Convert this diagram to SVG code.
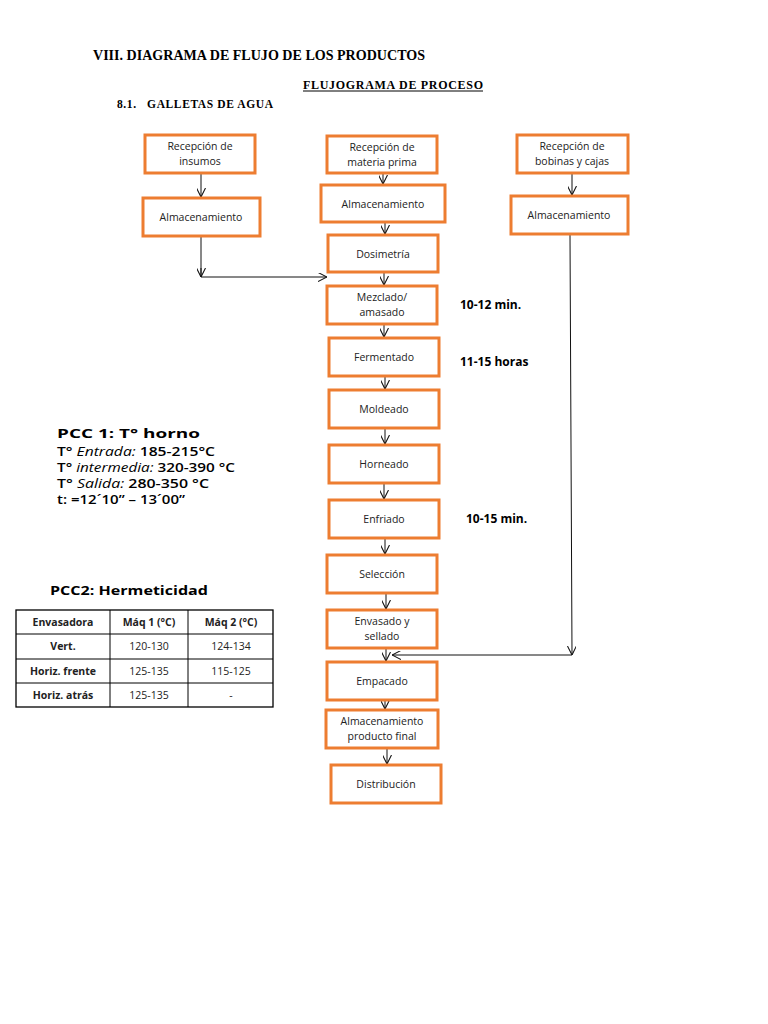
<svg xmlns="http://www.w3.org/2000/svg" width="768" height="1024" viewBox="0 0 768 1024">
<defs>
<style>
.bx{fill:#fff;stroke:#ED7D31;stroke-width:3}
.t{font-family:"Open Sans","Liberation Sans",sans-serif;font-size:10.5px;fill:#222;text-anchor:middle}
.ln{stroke:#111;stroke-width:1;fill:none}
.ttl{font-family:"Liberation Serif",serif;font-weight:bold;fill:#000}
.lab{font-family:"Open Sans","Liberation Sans",sans-serif;font-weight:bold;font-size:12px;fill:#000}
.pc{font-family:"Open Sans","Liberation Sans",sans-serif;font-size:13px;fill:#000}
.tb{font-family:"Open Sans","Liberation Sans",sans-serif;font-size:10.5px;fill:#222;text-anchor:middle}
</style>
<marker id="ah" viewBox="0 0 10 10" refX="10" refY="5" markerWidth="9" markerHeight="9" orient="auto" markerUnits="userSpaceOnUse">
<path d="M0,0 L10,5 L0,10" fill="none" stroke="#111" stroke-width="1.2"/>
</marker>
</defs>
<rect width="768" height="1024" fill="#fff"/>

<text class="ttl" x="93" y="60" font-size="15" textLength="332" lengthAdjust="spacingAndGlyphs">VIII. DIAGRAMA DE FLUJO DE LOS PRODUCTOS</text>
<text class="ttl" x="303" y="89" font-size="12" textLength="180" lengthAdjust="spacing">FLUJOGRAMA DE PROCESO</text>
<line x1="303" y1="91" x2="483" y2="91" stroke="#000" stroke-width="1"/>
<text class="ttl" x="117" y="108" font-size="11.5" xml:space="preserve" textLength="156" lengthAdjust="spacing">8.1.   GALLETAS DE AGUA</text>

<g id="connectors">
<line class="ln" x1="201" y1="173" x2="201" y2="197" marker-end="url(#ah)"/>
<polyline class="ln" points="201,236 201,277"/>
<line class="ln" x1="201" y1="268" x2="201" y2="277" marker-end="url(#ah)"/>
<line class="ln" x1="201" y1="277" x2="327" y2="277" marker-end="url(#ah)"/>
<line class="ln" x1="383" y1="173" x2="383" y2="184" marker-end="url(#ah)"/>
<line class="ln" x1="385" y1="222" x2="385" y2="234" marker-end="url(#ah)"/>
<line class="ln" x1="384" y1="272" x2="384" y2="285" marker-end="url(#ah)"/>
<line class="ln" x1="384" y1="324" x2="384" y2="337" marker-end="url(#ah)"/>
<line class="ln" x1="385" y1="376" x2="385" y2="389" marker-end="url(#ah)"/>
<line class="ln" x1="385" y1="428" x2="385" y2="444" marker-end="url(#ah)"/>
<line class="ln" x1="384" y1="483" x2="384" y2="499" marker-end="url(#ah)"/>
<line class="ln" x1="385" y1="538" x2="385" y2="554" marker-end="url(#ah)"/>
<line class="ln" x1="386" y1="593" x2="386" y2="609" marker-end="url(#ah)"/>
<line class="ln" x1="386" y1="648" x2="386" y2="661" marker-end="url(#ah)"/>
<line class="ln" x1="385" y1="700" x2="385" y2="709" marker-end="url(#ah)"/>
<line class="ln" x1="387" y1="748" x2="387" y2="764" marker-end="url(#ah)"/>
<line class="ln" x1="572" y1="173" x2="572" y2="195" marker-end="url(#ah)"/>
<line class="ln" x1="570" y1="234" x2="572" y2="655" marker-end="url(#ah)"/>
<line class="ln" x1="572" y1="655" x2="392" y2="655" marker-end="url(#ah)"/>
</g>

<g id="n1"><rect class="bx" x="145" y="135" width="110" height="38"/><text class="t" x="200" y="150">Recepción de</text><text class="t" x="200" y="165">insumos</text></g>
<g id="n2"><rect class="bx" x="143" y="198" width="117" height="38"/><text class="t" x="201" y="221">Almacenamiento</text></g>
<g id="n3"><rect class="bx" x="327" y="136" width="110" height="37"/><text class="t" x="382" y="151">Recepción de</text><text class="t" x="382" y="166">materia prima</text></g>
<g id="n4"><rect class="bx" x="321" y="185" width="124" height="37"/><text class="t" x="383" y="208">Almacenamiento</text></g>
<g id="n5"><rect class="bx" x="328" y="235" width="110" height="37"/><text class="t" x="383" y="258">Dosimetría</text></g>
<g id="n6"><rect class="bx" x="327" y="286" width="110" height="38"/><text class="t" x="382" y="301">Mezclado/</text><text class="t" x="382" y="316">amasado</text></g>
<g id="n7"><rect class="bx" x="329" y="338" width="110" height="38"/><text class="t" x="384" y="361">Fermentado</text></g>
<g id="n8"><rect class="bx" x="329" y="390" width="110" height="38"/><text class="t" x="384" y="413">Moldeado</text></g>
<g id="n9"><rect class="bx" x="329" y="445" width="110" height="38"/><text class="t" x="384" y="468">Horneado</text></g>
<g id="n10"><rect class="bx" x="329" y="500" width="110" height="38"/><text class="t" x="384" y="523">Enfriado</text></g>
<g id="n11"><rect class="bx" x="327" y="555" width="110" height="38"/><text class="t" x="382" y="578">Selección</text></g>
<g id="n12"><rect class="bx" x="327" y="610" width="110" height="38"/><text class="t" x="382" y="625">Envasado y</text><text class="t" x="382" y="640">sellado</text></g>
<g id="n13"><rect class="bx" x="327" y="662" width="110" height="38"/><text class="t" x="382" y="685">Empacado</text></g>
<g id="n14"><rect class="bx" x="326" y="710" width="112" height="38"/><text class="t" x="382" y="725">Almacenamiento</text><text class="t" x="382" y="740">producto final</text></g>
<g id="n15"><rect class="bx" x="331" y="765" width="110" height="38"/><text class="t" x="386" y="788">Distribución</text></g>
<g id="n16"><rect class="bx" x="517" y="135" width="111" height="38"/><text class="t" x="572" y="150">Recepción de</text><text class="t" x="572" y="165">bobinas y cajas</text></g>
<g id="n17"><rect class="bx" x="511" y="196" width="117" height="38"/><text class="t" x="569" y="219">Almacenamiento</text></g>

<text class="lab" x="460" y="309">10-12 min.</text>
<text class="lab" x="460" y="366">11-15 horas</text>
<text class="lab" x="466" y="523">10-15 min.</text>

<g id="pcc1">
<text class="pc" x="57" y="438" font-size="17" font-weight="bold" textLength="143" lengthAdjust="spacingAndGlyphs">PCC 1: T° horno</text>
<text class="pc" x="57" y="456" font-weight="600" textLength="158" lengthAdjust="spacingAndGlyphs">T° <tspan font-style="italic" font-weight="normal">Entrada:</tspan> 185-215°C</text>
<text class="pc" x="57" y="472" font-weight="600" textLength="178" lengthAdjust="spacingAndGlyphs">T° <tspan font-style="italic" font-weight="normal">intermedia:</tspan> 320-390 °C</text>
<text class="pc" x="57" y="488" font-weight="600" textLength="152" lengthAdjust="spacingAndGlyphs">T° <tspan font-style="italic" font-weight="normal">Salida:</tspan> 280-350 °C</text>
<text class="pc" x="57" y="504" font-weight="600" textLength="128" lengthAdjust="spacingAndGlyphs">t: =12´10” – 13´00”</text>
</g>

<g id="pcc2">
<text class="pc" x="50" y="595" font-size="17" font-weight="bold" textLength="158" lengthAdjust="spacingAndGlyphs">PCC2: Hermeticidad</text>
<rect x="16" y="610" width="257" height="97" fill="none" stroke="#000" stroke-width="1.3"/>
<line x1="16" y1="634" x2="273" y2="634" stroke="#000" stroke-width="1"/>
<line x1="16" y1="659" x2="273" y2="659" stroke="#000" stroke-width="1"/>
<line x1="16" y1="683" x2="273" y2="683" stroke="#000" stroke-width="1"/>
<line x1="110" y1="610" x2="110" y2="707" stroke="#000" stroke-width="1"/>
<line x1="188" y1="610" x2="188" y2="707" stroke="#000" stroke-width="1"/>
<text class="tb" x="63" y="626" font-weight="bold">Envasadora</text>
<text class="tb" x="149" y="626" font-weight="bold">Máq 1 (°C)</text>
<text class="tb" x="231" y="626" font-weight="bold">Máq 2 (°C)</text>
<text class="tb" x="63" y="650" font-weight="bold">Vert.</text>
<text class="tb" x="149" y="650">120-130</text>
<text class="tb" x="231" y="650">124-134</text>
<text class="tb" x="63" y="675" font-weight="bold">Horiz. frente</text>
<text class="tb" x="149" y="675">125-135</text>
<text class="tb" x="231" y="675">115-125</text>
<text class="tb" x="63" y="699" font-weight="bold">Horiz. atrás</text>
<text class="tb" x="149" y="699">125-135</text>
<text class="tb" x="231" y="699">-</text>
</g>
</svg>
